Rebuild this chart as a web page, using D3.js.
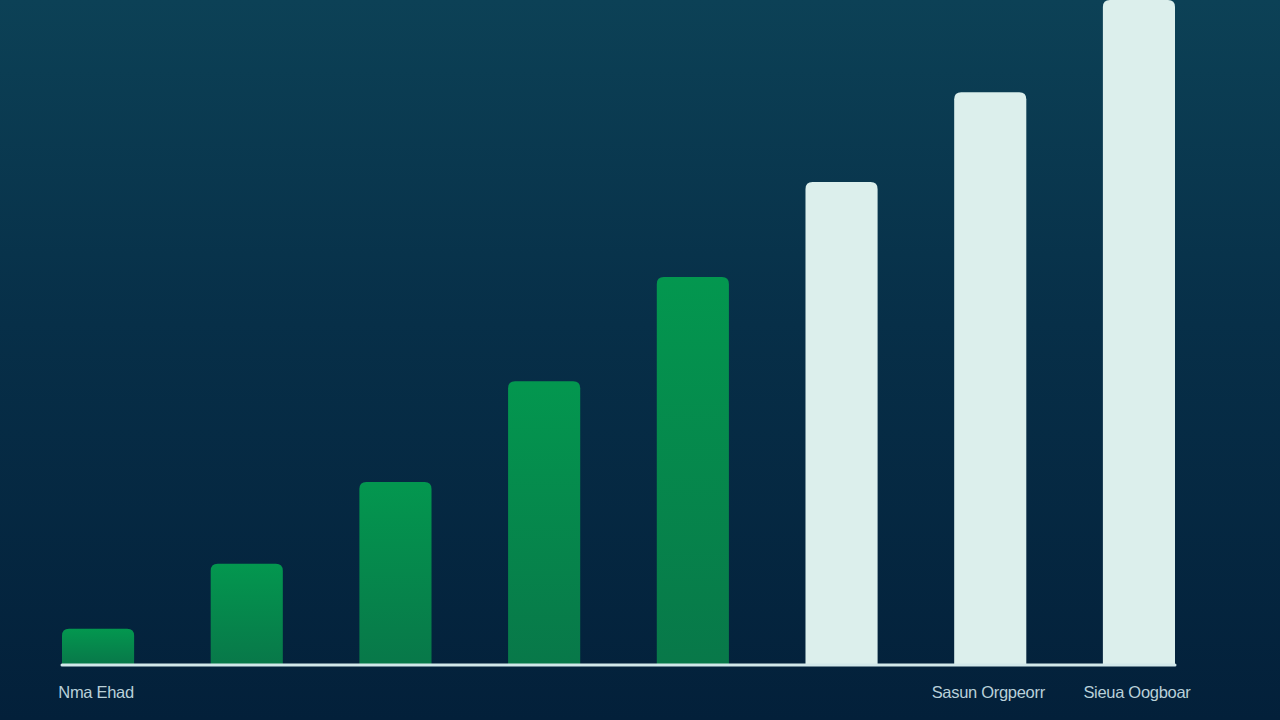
<!DOCTYPE html>
<html>
<head>
<meta charset="utf-8">
<script src="https://cdn.jsdelivr.net/npm/d3@7"></script>
<style>
  html, body { margin: 0; padding: 0; background: #04213a; }
  svg { display: block; }
</style>
</head>
<body>
<svg id="chart"></svg>
<script>
// data
const categories = ["c1", "c2", "c3", "c4", "c5", "c6", "c7", "c8"];
const labels = ["Nma Ehad", "", "", "", "", "", "Sasun Orgpeorr", "Sieua Oogboar"];
const values = [5.3, 15.1, 27.4, 42.6, 58.3, 72.6, 86.1, 100];
const kinds = ["green", "green", "green", "green", "green", "light", "light", "light"];

const w = 1280, h = 720;
const left = 62, right = 1175, baseY = 664, topY = 0;

let svg = d3.select("#chart")
  .attr("width", w)
  .attr("height", h);

// background gradient
let defs = svg.append("defs");
let bg = defs.append("linearGradient")
  .attr("id", "bg")
  .attr("x1", 0).attr("y1", 0).attr("x2", 0).attr("y2", 1);
bg.append("stop").attr("offset", "0%").attr("stop-color", "#0c4156");
bg.append("stop").attr("offset", "45%").attr("stop-color", "#072f48");
bg.append("stop").attr("offset", "100%").attr("stop-color", "#03203a");

let gr = defs.append("linearGradient")
  .attr("id", "green")
  .attr("x1", 0).attr("y1", 0).attr("x2", 0).attr("y2", 1);
gr.append("stop").attr("offset", "0%").attr("stop-color", "#03974f");
gr.append("stop").attr("offset", "100%").attr("stop-color", "#087849");

svg.append("rect")
  .attr("width", w)
  .attr("height", h)
  .attr("fill", "url(#bg)");

// scales
let x = d3.scaleBand()
  .domain(categories)
  .range([left, right])
  .paddingInner(0.515)
  .paddingOuter(0);

let y = d3.scaleLinear()
  .domain([0, 100])
  .range([baseY, topY]);

// bar with rounded top corners only
function barPath(d, i) {
  let x0 = x(categories[i]);
  let bw = x.bandwidth();
  let y0 = y(d);
  let r = Math.min(7, (baseY - y0) / 2);
  return `M${x0},${baseY}` +
    `L${x0},${y0 + r}` +
    `Q${x0},${y0} ${x0 + r},${y0}` +
    `L${x0 + bw - r},${y0}` +
    `Q${x0 + bw},${y0} ${x0 + bw},${y0 + r}` +
    `L${x0 + bw},${baseY}Z`;
}

svg.selectAll("path.bar")
  .data(values)
  .enter()
  .append("path")
    .attr("class", "bar")
    .attr("d", (d, i) => barPath(d, i))
    .attr("fill", (d, i) => kinds[i] == "green" ? "url(#green)" : "#dcefec");

// baseline
svg.append("line")
  .attr("x1", left)
  .attr("x2", right)
  .attr("y1", baseY + 1)
  .attr("y2", baseY + 1)
  .attr("stroke", "#d2e8ea")
  .attr("stroke-width", 3)
  .attr("stroke-linecap", "round");

// category labels
svg.selectAll("text.label")
  .data(labels)
  .enter()
  .append("text")
    .attr("class", "label")
    .text(d => d)
    .attr("x", (d, i) => x(categories[i]) + x.bandwidth() / 2 - 2)
    .attr("y", 698)
    .attr("text-anchor", "middle")
    .attr("font-family", "'Liberation Sans', Arial, sans-serif")
    .attr("font-size", "16.5px")
    .attr("letter-spacing", "-0.3px")
    .attr("fill", "#b9d0d9");
</script>
</body>
</html>
